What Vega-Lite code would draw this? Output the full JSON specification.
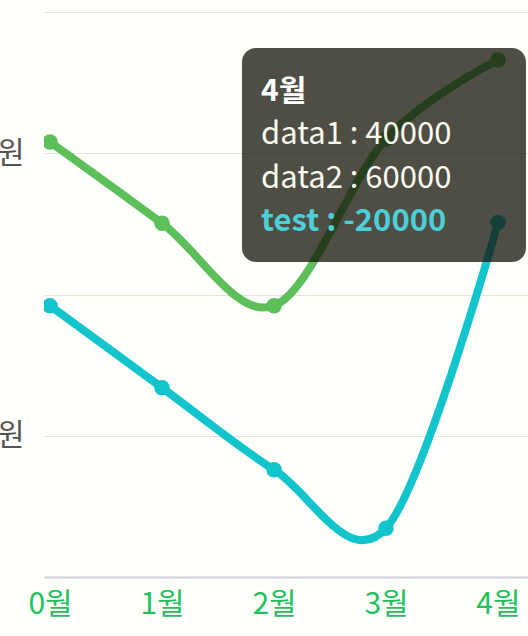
{
  "$schema": "https://vega.github.io/schema/vega-lite/v6.json",
  "width": 484,
  "height": 565,
  "autosize": {"type": "none"},
  "padding": {"left": 44, "top": 12, "right": 0, "bottom": 59},
  "background": "#fffffc",
  "datasets": {
    "sales": [
      {"month": 0, "series": "data2", "value": 61600},
      {"month": 1, "series": "data2", "value": 50100},
      {"month": 2, "series": "data2", "value": 38400},
      {"month": 3, "series": "data2", "value": 62000},
      {"month": 4, "series": "data2", "value": 73200},
      {"month": 0, "series": "data1", "value": 38400},
      {"month": 1, "series": "data1", "value": 26800},
      {"month": 2, "series": "data1", "value": 15200},
      {"month": 3, "series": "data1", "value": 6900},
      {"month": 4, "series": "data1", "value": 50200}
    ],
    "tip": [
      {"line": "4월", "kind": "title"},
      {"line": "data1 : 40000", "kind": "value"},
      {"line": "data2 : 60000", "kind": "value"},
      {"line": "test : -20000", "kind": "test"}
    ]
  },
  "layer": [
    {
      "data": {"name": "sales"},
      "layer": [
        {
          "mark": {"type": "line", "interpolate": "cardinal", "strokeWidth": 8, "strokeCap": "round", "clip": true},
          "encoding": {
            "x": {
              "field": "month",
              "type": "quantitative",
              "scale": {"domain": [-0.054, 4.268], "nice": false, "zero": false},
              "axis": {
                "values": [0, 1, 2, 3, 4],
                "labelExpr": "datum.value + '월'",
                "title": null,
                "grid": false,
                "ticks": false,
                "domain": true,
                "domainColor": "#cfcfd6",
                "domainWidth": 2,
                "labelColor": "#1fc25c",
                "labelFontSize": 30,
                "labelPadding": 12,
                "labelFlush": false
              }
            },
            "y": {
              "field": "value",
              "type": "quantitative",
              "scale": {"domain": [0, 80000], "nice": false},
              "axis": {
                "values": [0, 20000, 40000, 60000, 80000],
                "labelExpr": "datum.value == 20000 || datum.value == 60000 ? format(datum.value, ',') + '원' : ''",
                "title": null,
                "ticks": false,
                "domain": false,
                "grid": true,
                "gridColor": "#e6e4d2",
                "gridWidth": 1,
                "labelColor": "#555555",
                "labelFontSize": 30,
                "labelPadding": 20
              }
            },
            "color": {
              "field": "series",
              "type": "nominal",
              "scale": {"domain": ["data1", "data2"], "range": ["#12c4cc", "#5cbf5a"]},
              "legend": null
            }
          }
        },
        {
          "mark": {"type": "point", "filled": true, "opacity": 1, "size": 240, "clip": true},
          "encoding": {
            "x": {"field": "month", "type": "quantitative"},
            "y": {"field": "value", "type": "quantitative"},
            "color": {"field": "series", "type": "nominal"}
          }
        },
        {
          "data": {"values": [{"box": "tooltip"}]},
          "mark": {"type": "rect", "fill": "#16160a", "fillOpacity": 0.76, "strokeWidth": 0, "cornerRadius": 14},
          "encoding": {
            "x": {"datum": 1.714},
            "x2": {"datum": 4.25},
            "y": {"datum": 74900},
            "y2": {"datum": 44600}
          }
        }
      ]
    },
    {
      "data": {"name": "tip"},
      "encoding": {
        "x": {"datum": 1.884},
        "y": {
          "field": "line",
          "type": "ordinal",
          "sort": null,
          "scale": {"type": "point", "range": [80, 210], "padding": 0},
          "axis": null
        },
        "text": {"field": "line"}
      },
      "layer": [
        {
          "transform": [{"filter": "datum.kind == 'title'"}],
          "mark": {"type": "text", "align": "left", "baseline": "middle", "fontSize": 30, "fontWeight": "bold", "color": "#ffffff"}
        },
        {
          "transform": [{"filter": "datum.kind == 'value'"}],
          "mark": {"type": "text", "align": "left", "baseline": "middle", "fontSize": 31, "color": "#fbfbf0"}
        },
        {
          "transform": [{"filter": "datum.kind == 'test'"}],
          "mark": {"type": "text", "align": "left", "baseline": "middle", "fontSize": 31, "fontWeight": "bold", "color": "#4ccfd6"}
        }
      ]
    }
  ],
  "resolve": {"scale": {"y": "independent"}},
  "config": {
    "font": "Noto Sans CJK KR",
    "view": {"stroke": null}
  }
}
